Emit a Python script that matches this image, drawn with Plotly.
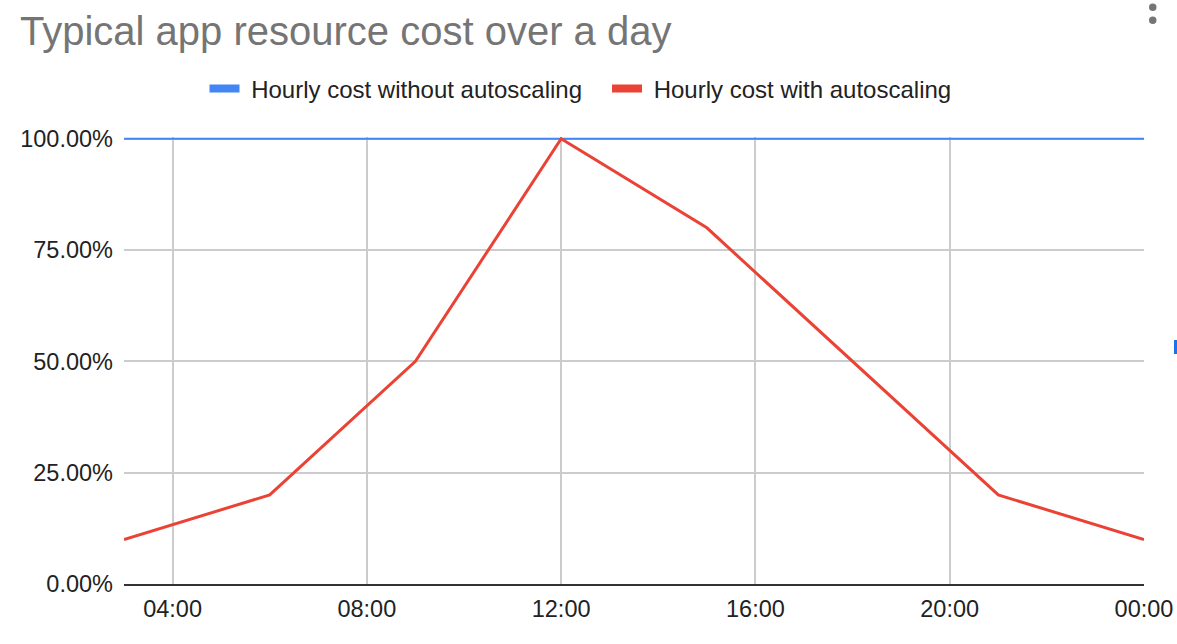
import plotly.graph_objects as go

hours = [3, 6, 9, 12, 15, 18, 21, 24]
cost_without = [1.0, 1.0, 1.0, 1.0, 1.0, 1.0, 1.0, 1.0]
cost_with = [0.10, 0.20, 0.50, 1.00, 0.80, 0.50, 0.20, 0.10]
tick_hours = [4, 8, 12, 16, 20, 24]
tick_labels = ["04:00", "08:00", "12:00", "16:00", "20:00", "00:00"]
y_ticks = [0, 0.25, 0.5, 0.75, 1.0]
series_names = ["Hourly cost without autoscaling", "Hourly cost with autoscaling"]

BLUE = "#4285F4"
RED = "#EA4335"
FONT = "Arial, Liberation Sans, sans-serif"
NB = "\u00a0"

fig = go.Figure()
fig.add_trace(go.Scatter(x=hours, y=cost_without, mode="lines",
                         line=dict(color=BLUE, width=2), showlegend=False))
fig.add_trace(go.Scatter(x=hours, y=cost_with, mode="lines",
                         line=dict(color=RED, width=3), showlegend=False))
# legend entries
fig.add_trace(go.Scatter(x=[None], y=[None], mode="lines",
                         line=dict(color=BLUE, width=8),
                         name=NB + series_names[0] + NB * 3))
fig.add_trace(go.Scatter(x=[None], y=[None], mode="lines",
                         line=dict(color=RED, width=8),
                         name=NB + series_names[1]))

fig.update_layout(
    width=1177, height=644,
    margin=dict(l=124, r=33, t=137, b=60, autoexpand=False),
    paper_bgcolor="white", plot_bgcolor="white",
    font=dict(family=FONT, size=23.5, color="#222222"),
    title=dict(text="Typical app resource cost over a day",
               font=dict(family=FONT, size=40, color="#757575"),
               x=20 / 1177, xanchor="left", xref="container",
               y=1 - 31 / 644, yanchor="middle", yref="container"),
    legend=dict(orientation="h", x=580.5 / 1177, xanchor="center", xref="container",
                y=1 - 89 / 644, yanchor="middle", yref="container",
                itemwidth=30, font=dict(size=24, color="#222222"),
                traceorder="normal"),
    xaxis=dict(range=[3, 24], tickvals=tick_hours, ticktext=tick_labels,
               showgrid=True, gridcolor="#cccccc", gridwidth=1.5,
               showline=True, linecolor="#333333", linewidth=2,
               zeroline=False, ticks="", ticklabelstandoff=3, automargin=False),
    yaxis=dict(range=[0, 1.004], tickvals=y_ticks, tickformat=".2%",
               showgrid=True, gridcolor="#cccccc", gridwidth=1.5,
               zeroline=False, showline=False, ticks="", ticklabelstandoff=10,
               automargin=False),
    shapes=[
        dict(type="circle", xref="paper", yref="paper",
             x0=(1149 - 124) / 1020, x1=(1156.5 - 124) / 1020,
             y0=(584 - 3.5) / 447, y1=(584 - 11) / 447,
             fillcolor="#757575", line=dict(width=0)),
        dict(type="circle", xref="paper", yref="paper",
             x0=(1149 - 124) / 1020, x1=(1156.5 - 124) / 1020,
             y0=(584 - 16.5) / 447, y1=(584 - 24) / 447,
             fillcolor="#757575", line=dict(width=0)),
        dict(type="rect", xref="paper", yref="paper",
             x0=(1174 - 124) / 1020, x1=(1178 - 124) / 1020,
             y0=(584 - 340) / 447, y1=(584 - 354) / 447,
             fillcolor="#1a73e8", line=dict(width=0)),
    ],
)

fig.write_html("out.html")
